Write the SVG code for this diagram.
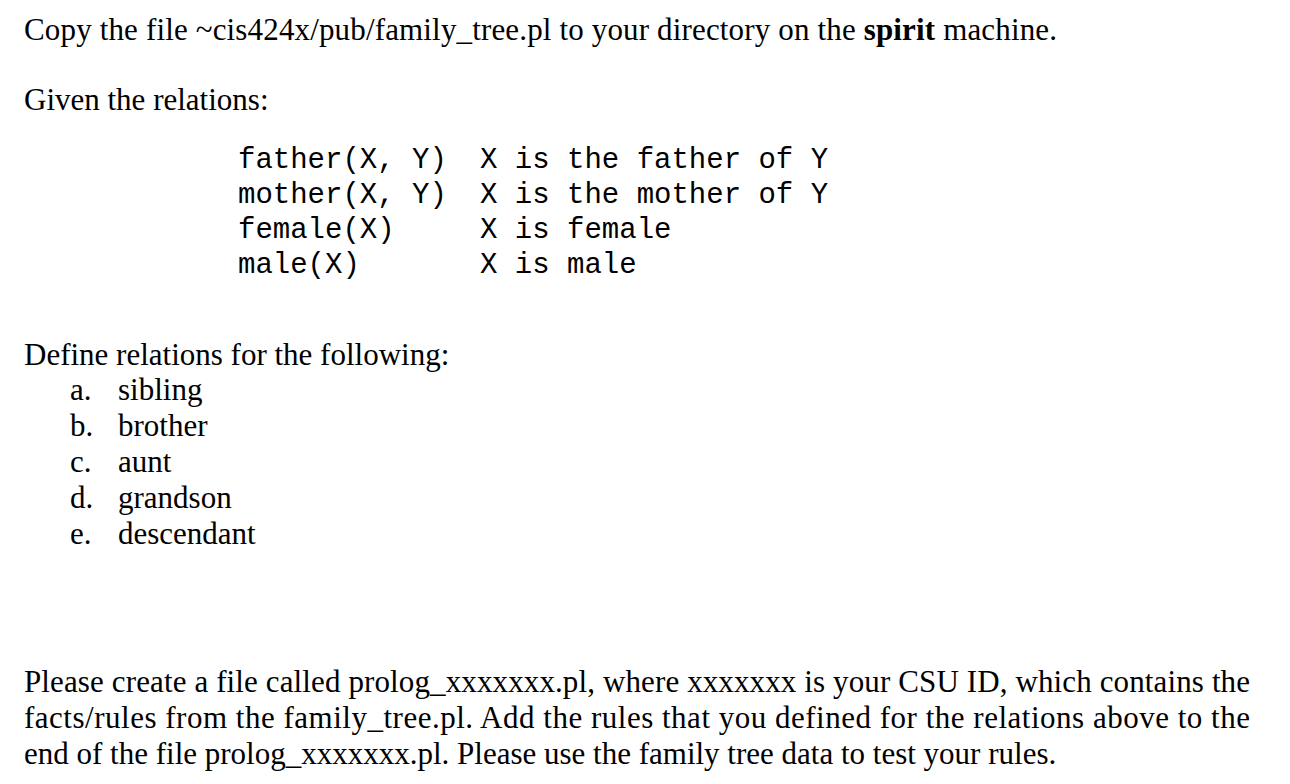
<svg xmlns="http://www.w3.org/2000/svg" width="1290" height="784" viewBox="0 0 1290 784">
<style>
.s{font-family:"Liberation Serif",serif;font-size:31px;fill:#000}
.m{font-family:"Liberation Mono",monospace;font-size:29px;fill:#000}
</style>
<rect width="1290" height="784" fill="#fff"/>
<text class="s" x="24" y="40" textLength="1033">Copy the file ~cis424x/pub/family_tree.pl to your directory on the <tspan font-weight="bold">spirit</tspan> machine.</text>
<text class="s" x="24" y="110">Given the relations:</text>
<g>
<text class="m" x="238" y="168">father(X, Y)</text>
<text class="m" x="238" y="203">mother(X, Y)</text>
<text class="m" x="238" y="238">female(X)</text>
<text class="m" x="238" y="273">male(X)</text>
<text class="m" x="480" y="168">X is the father of Y</text>
<text class="m" x="480" y="203">X is the mother of Y</text>
<text class="m" x="480" y="238">X is female</text>
<text class="m" x="480" y="273">X is male</text>
</g>
<text class="s" x="24" y="365">Define relations for the following:</text>
<text class="s" x="70" y="400">a.</text><text class="s" x="118" y="400">sibling</text>
<text class="s" x="70" y="436">b.</text><text class="s" x="118" y="436">brother</text>
<text class="s" x="70" y="472">c.</text><text class="s" x="118" y="472">aunt</text>
<text class="s" x="70" y="508">d.</text><text class="s" x="118" y="508">grandson</text>
<text class="s" x="70" y="544">e.</text><text class="s" x="118" y="544">descendant</text>
<text class="s" x="24" y="692" textLength="1226">Please create a file called prolog_xxxxxxx.pl, where xxxxxxx is your CSU ID, which contains the</text>
<text class="s" x="24" y="728" textLength="1226">facts/rules from the family_tree.pl. Add the rules that you defined for the relations above to the</text>
<text class="s" x="24" y="764">end of the file prolog_xxxxxxx.pl. Please use the family tree data to test your rules.</text>
</svg>
